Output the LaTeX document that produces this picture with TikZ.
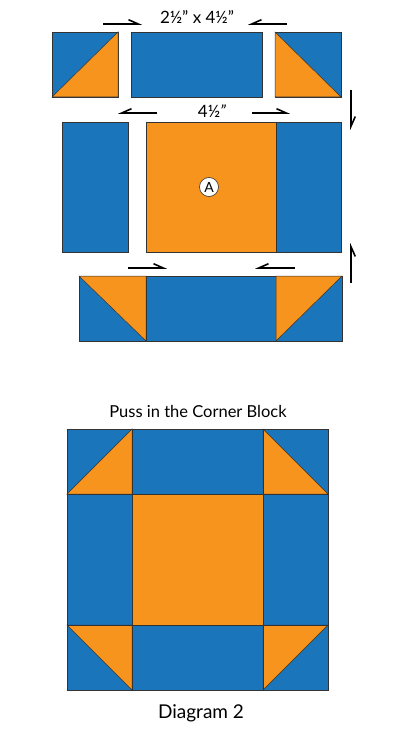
\documentclass[tikz,border=0pt]{standalone}
\usepackage{fontspec}
\setmainfont{Lato}
\usetikzlibrary{arrows.meta}
\definecolor{quiltblue}{HTML}{1B75BB}
\definecolor{quiltorange}{HTML}{F7941D}
\definecolor{seam}{HTML}{333333}

\begin{document}
\begin{tikzpicture}[x=1pt, y=-1pt,
  patch/.style={draw=seam, line width=0.5pt},
  bluep/.style={patch, fill=quiltblue},
  orangep/.style={patch, fill=quiltorange},
  press/.style={line width=1.6pt},
  pressl/.style={press, -{Straight Barb[left, length=3.4mm, width=3mm]}},
  pressr/.style={press, -{Straight Barb[right, length=3.4mm, width=3mm]}},
  lbl/.style={inner sep=0pt, font=\fontsize{17}{20}\selectfont}]

  \useasboundingbox (0,0) rectangle (400,730);

  % row 1: corner units and top bar
  \draw[bluep] (52,32) rectangle (118,97);
  \draw[orangep] (52,97) -- (118,97) -- (118,32) -- cycle;
  \draw[bluep] (131,32) rectangle (262,97);
  \draw[bluep] (275,32) rectangle (341,97);
  \draw[orangep] (275,32) -- (275,97) -- (341,97) -- cycle;
  \node[lbl] (cutsize) at (197,17) {2½" x 4½"};
  \draw[pressl] (103,24) -- (142,24);
  \draw[pressr] (287,24) -- (248,24);

  % row 2: side bars and centre square A
  \draw[bluep] (62,122) rectangle (128,252);
  \draw[orangep] (146,122) rectangle (276,252);
  \draw[bluep] (276,122) rectangle (341,252);
  \node[circle, draw=seam, fill=white, line width=0.6pt, minimum size=19pt,
        inner sep=0pt, font=\fontsize{14}{16}\selectfont] (pieceA) at (209,187) {A};
  \node[lbl] (centresize) at (212,111) {4½{\itshape"}};
  \draw[pressr] (157,113) -- (118,113);
  \draw[pressl] (252,113) -- (290,113);

  % row 3: corner units and bottom bar
  \draw[bluep] (79,276) rectangle (146,341);
  \draw[orangep] (79,276) -- (146,276) -- (146,341) -- cycle;
  \draw[bluep] (146,276) rectangle (276,341);
  \draw[bluep] (276,276) rectangle (342,341);
  \draw[orangep] (276,276) -- (342,276) -- (276,341) -- cycle;
  \draw[pressl] (128,268) -- (167,268);
  \draw[pressr] (295,268) -- (255,268);

  % rows joined
  \draw[pressl] (351,90) -- (351,130);
  \draw[pressr] (351,283) -- (351,243);

  % finished block
  \node[inner sep=0pt, font=\fontsize{16.5}{20}\selectfont] (title) at (198,411) {Puss in the Corner Block};
  \draw[bluep] (67,429) rectangle (328,690);
  \draw[orangep] (132,494) rectangle (263,625);
  \draw[orangep] (132,429) -- (67,494) -- (132,494) -- cycle;
  \draw[orangep] (263,429) -- (263,494) -- (328,494) -- cycle;
  \draw[orangep] (67,625) -- (132,625) -- (132,690) -- cycle;
  \draw[orangep] (263,625) -- (328,625) -- (263,690) -- cycle;
  \draw[patch] (132,429) -- (132,690) (263,429) -- (263,690)
               (67,494) -- (328,494) (67,625) -- (328,625);
  \node[inner sep=0pt, font=\fontsize{19}{22}\selectfont] (caption) at (201,713) {Diagram 2};
\end{tikzpicture}
\end{document}
